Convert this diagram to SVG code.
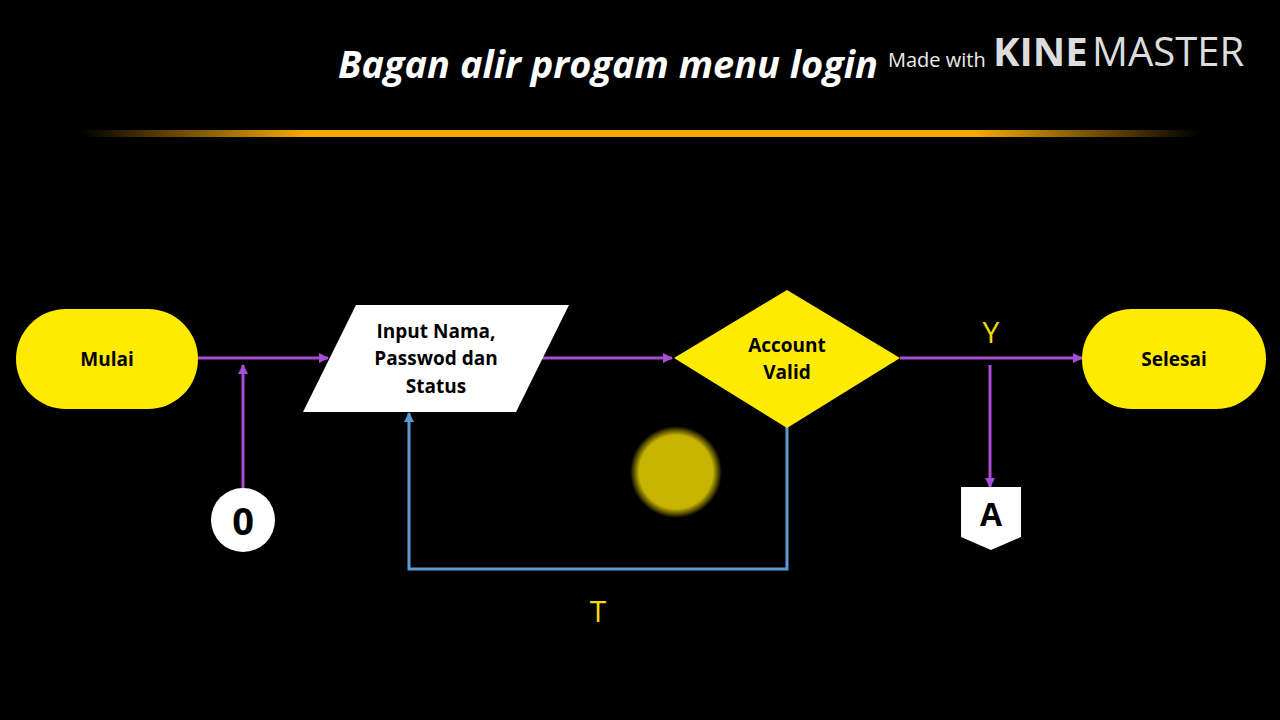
<svg xmlns="http://www.w3.org/2000/svg" width="1280" height="720" viewBox="0 0 1280 720">
<defs>
<linearGradient id="bar" x1="0" x2="1"><stop offset="0" stop-color="#f5a800" stop-opacity="0"/><stop offset="0.2" stop-color="#f5a800"/><stop offset="0.8" stop-color="#f5a800"/><stop offset="1" stop-color="#f5a800" stop-opacity="0"/></linearGradient>
<radialGradient id="dot"><stop offset="0.8" stop-color="#c8b400"/><stop offset="1" stop-color="#c8b400" stop-opacity="0"/></radialGradient>
<marker id="ap" markerWidth="10" markerHeight="10" refX="9" refY="5" orient="auto" markerUnits="userSpaceOnUse"><path d="M0,0 L10,5 L0,10 z" fill="#a64fd6"/></marker>
<marker id="ab" markerWidth="10" markerHeight="10" refX="9" refY="5" orient="auto" markerUnits="userSpaceOnUse"><path d="M0,0 L10,5 L0,10 z" fill="#5b9bd5"/></marker>
</defs>
<style>
.t{font-family:"Open Sans","Liberation Sans",sans-serif;font-weight:bold;font-size:19px;text-anchor:middle;fill:#000}
.p{stroke:#a64fd6;stroke-width:3;fill:none}
.b{stroke:#5b9bd5;stroke-width:3;fill:none}
.lbl{font-family:"Open Sans","Liberation Sans",sans-serif;font-size:30px;fill:#f0dc00;text-anchor:middle}
</style>
<rect width="1280" height="720" fill="#000"/>
<text x="338" y="78" font-family="Open Sans, Liberation Sans, sans-serif" font-size="38" font-weight="bold" font-style="italic" fill="#fff" textLength="540" lengthAdjust="spacingAndGlyphs">Bagan alir progam menu login</text>
<rect x="80" y="130" width="1120" height="7" fill="url(#bar)"/>
<text x="888" y="67" font-family="Open Sans, Liberation Sans, sans-serif" font-size="20" fill="#eee">Made with</text>
<text x="993" y="66" font-family="Open Sans, Liberation Sans, sans-serif" font-size="40" font-weight="bold" fill="#ddd">KINE</text>
<text x="1092" y="66" font-family="Open Sans, Liberation Sans, sans-serif" font-size="40" fill="#ddd">MASTER</text>
<circle cx="676" cy="472" r="46" fill="url(#dot)"/>
<g id="connectors">
<line class="p" x1="198" y1="358" x2="328" y2="358" marker-end="url(#ap)"/>
<line class="p" x1="243" y1="490" x2="243" y2="365" marker-end="url(#ap)"/>
<line class="p" x1="540" y1="358" x2="672" y2="358" marker-end="url(#ap)"/>
<line class="p" x1="900" y1="358" x2="1082" y2="358" marker-end="url(#ap)"/>
<line class="p" x1="990" y1="365" x2="990" y2="487" marker-end="url(#ap)"/>
<polyline class="b" points="787,426 787,569 409,569 409,413" marker-end="url(#ab)"/>
<text class="lbl" x="991" y="343">Y</text>
<text class="lbl" x="598" y="622">T</text>
</g>
<g id="mulai"><rect x="16" y="309" width="182" height="100" rx="50" fill="#ffeb00"/><text class="t" x="107" y="366">Mulai</text></g>
<g id="selesai"><rect x="1082" y="309" width="184" height="100" rx="50" fill="#ffeb00"/><text class="t" x="1174" y="366">Selesai</text></g>
<g id="input"><polygon points="356,305 569,305 516,412 303,412" fill="#fff"/>
<text class="t" x="436" y="338">Input Nama,</text><text class="t" x="436" y="365">Passwod dan</text><text class="t" x="436" y="393">Status</text></g>
<g id="valid"><polygon points="787,290 900,358 787,428 674,358" fill="#ffeb00"/>
<text class="t" x="787" y="352">Account</text><text class="t" x="787" y="379">Valid</text></g>
<g id="c0"><circle cx="243" cy="520" r="32" fill="#fff"/><text x="243" y="535" font-family="Open Sans, Liberation Sans, sans-serif" font-weight="bold" font-size="38" text-anchor="middle">0</text></g>
<g id="cA"><polygon points="961,487 1021,487 1021,537 991,550 961,537" fill="#fff"/><text x="991" y="526" font-family="Open Sans, Liberation Sans, sans-serif" font-weight="bold" font-size="32" text-anchor="middle">A</text></g>
</svg>
